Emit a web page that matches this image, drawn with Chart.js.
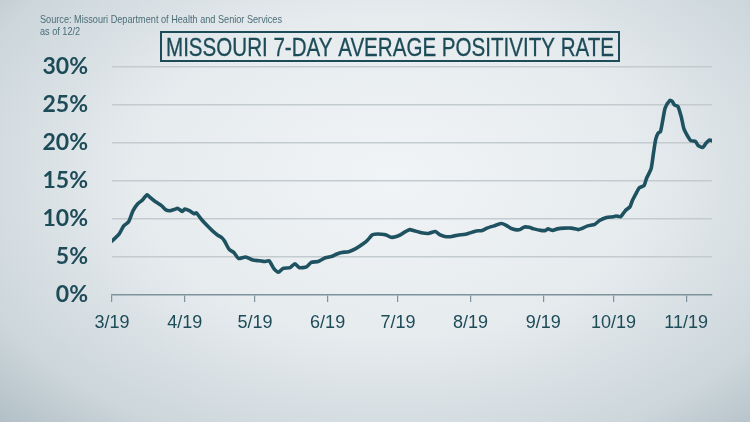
<!DOCTYPE html>
<html>
<head>
<meta charset="utf-8">
<script src="https://cdn.jsdelivr.net/npm/chart.js@4.4.0/dist/chart.umd.min.js"></script>
<style>
  html, body { margin: 0; padding: 0; }
  #wrap {
    position: relative; width: 750px; height: 422px; overflow: hidden;
    background: radial-gradient(ellipse 75% 85% at 52% 42%, #f1f4f6 0%, #e6ebee 45%, #ccd6db 80%, #aebcc3 100%);
  }
  #chart { position: absolute; left: 0; top: 0; }
</style>
</head>
<body>
<div id="wrap">
  <canvas id="chart" width="750" height="422"></canvas>
</div>
<script>
// Days since 3/19
const days = [0,3,5,7,9,11,13,15,16,18,21,23,25,27,28,30,31,33,35,36,38,41,43,45,47,48,50,52,54,57,60,63,65,67,69,71,73,76,78,80,83,85,88,91,94,96,98,101,104,107,109,111,112,115,117,119,121,123,125,127,129,132,135,138,140,142,145,148,150,152,155,158,160,163,166,168,170,172,174,176,178,180,183,185,186,188,190,193,196,199,200,203,206,208,211,214,215,217,219,221,222,223.5,225,227,228,230,231,232,233,234,235,236,238,239,240,241.5,243,244,246,247,249,250,252,253.5,255,256];
const positivity = [7.1,8.0,9.1,9.6,11.1,12.0,12.5,13.2,12.9,12.4,11.8,11.2,11.1,11.3,11.4,11.0,11.3,11.1,10.7,10.8,10.0,9.0,8.4,7.9,7.5,7.1,6.0,5.6,4.8,5.0,4.6,4.5,4.4,4.5,3.5,3.0,3.5,3.6,4.1,3.6,3.7,4.3,4.4,4.9,5.1,5.4,5.6,5.7,6.1,6.7,7.2,7.9,8.0,8.0,7.9,7.6,7.65,7.9,8.3,8.6,8.45,8.2,8.1,8.35,7.9,7.7,7.7,7.9,7.95,8.1,8.4,8.5,8.8,9.1,9.4,9.2,8.8,8.6,8.6,8.95,8.9,8.7,8.5,8.5,8.7,8.5,8.7,8.8,8.8,8.6,8.7,9.1,9.3,9.8,10.2,10.3,10.4,10.3,11.1,11.6,12.4,13.3,14.1,14.4,15.3,16.6,18.6,20.5,21.3,21.5,23.0,24.6,25.6,25.5,25.0,24.8,23.3,21.9,20.7,20.3,20.2,19.7,19.4,20.0,20.4,20.3];
const tickDays = [0,31,61,92,122,153,184,214,245];
const tickLabels = ["3/19","4/19","5/19","6/19","7/19","8/19","9/19","10/19","11/19"];
const yTicks = [0,5,10,15,20,25,30];
const titleText = "MISSOURI 7-DAY AVERAGE POSITIVITY RATE";
const sourceLines = ["Source: Missouri Department of Health and Senior Services", "as of 12/2"];

const points = days.map((d, i) => ({ x: d, y: positivity[i] }));
const ink = "#1d4b58";

const headerPlugin = {
  id: "header",
  afterDraw(chart) {
    const ctx = chart.ctx;
    ctx.save();
    ctx.font = "10.5px 'Liberation Sans', Arial, sans-serif";
    ctx.fillStyle = "#4b6d77";
    ctx.textAlign = "left";
    ctx.textBaseline = "alphabetic";
    const k = 242 / ctx.measureText(sourceLines[0]).width;
    ctx.fillText(sourceLines[0], 40, 23, 242);
    ctx.fillText(sourceLines[1], 40, 35, ctx.measureText(sourceLines[1]).width * k);
    ctx.strokeStyle = ink;
    ctx.lineWidth = 2;
    ctx.strokeRect(161, 32, 458, 29);
    ctx.font = "25px 'Liberation Sans', Arial, sans-serif";
    ctx.fillStyle = ink;
    ctx.textAlign = "center";
    ctx.fillText(titleText, 390, 56, 448);
    ctx.lineWidth = 0.3;
    ctx.strokeText(titleText, 390, 56, 448);
    ctx.restore();
  }
};

new Chart(document.getElementById("chart"), {
  type: "line",
  data: { datasets: [{ data: points, borderColor: "#1f5261", borderWidth: 3.6, pointRadius: 0, tension: 0.2, fill: false, borderJoinStyle: "round", borderCapStyle: "round" }] },
  plugins: [headerPlugin],
  options: {
    responsive: false, animation: false, devicePixelRatio: 1,
    layout: { padding: { left: 0, right: 38, top: 67, bottom: 87 } },
    plugins: { legend: { display: false }, tooltip: { enabled: false }, title: { display: false } },
    scales: {
      x: {
        type: "linear", min: 0, max: 256,
        afterBuildTicks: s => { s.ticks = tickDays.map(v => ({ value: v })); },
        afterFit: s => { s.height = 40; },
        ticks: { autoSkip: false, maxRotation: 0, padding: 10, color: ink,
          font: { family: "'Liberation Sans', Arial, sans-serif", size: 18 },
          callback: v => tickLabels[tickDays.indexOf(v)] },
        grid: { drawOnChartArea: false, drawTicks: true, tickLength: 7, color: "#7d939b", lineWidth: 1.2 },
        border: { display: true, color: "#7d939b", width: 1.5 }
      },
      y: {
        min: 0, max: 30,
        afterBuildTicks: s => { s.ticks = yTicks.map(v => ({ value: v })); },
        afterFit: s => { s.width = 112; },
        ticks: { padding: 24, color: ink, font: { family: "Lato, 'Open Sans', sans-serif", size: 23, weight: "bold" },
          callback: v => v + "%" },
        grid: { drawTicks: false, color: c => c.tick.value === 0 ? "rgba(0,0,0,0)" : "#c3cbcf", lineWidth: 1.5 },
        border: { display: false }
      }
    }
  }
});
</script>
</body>
</html>
